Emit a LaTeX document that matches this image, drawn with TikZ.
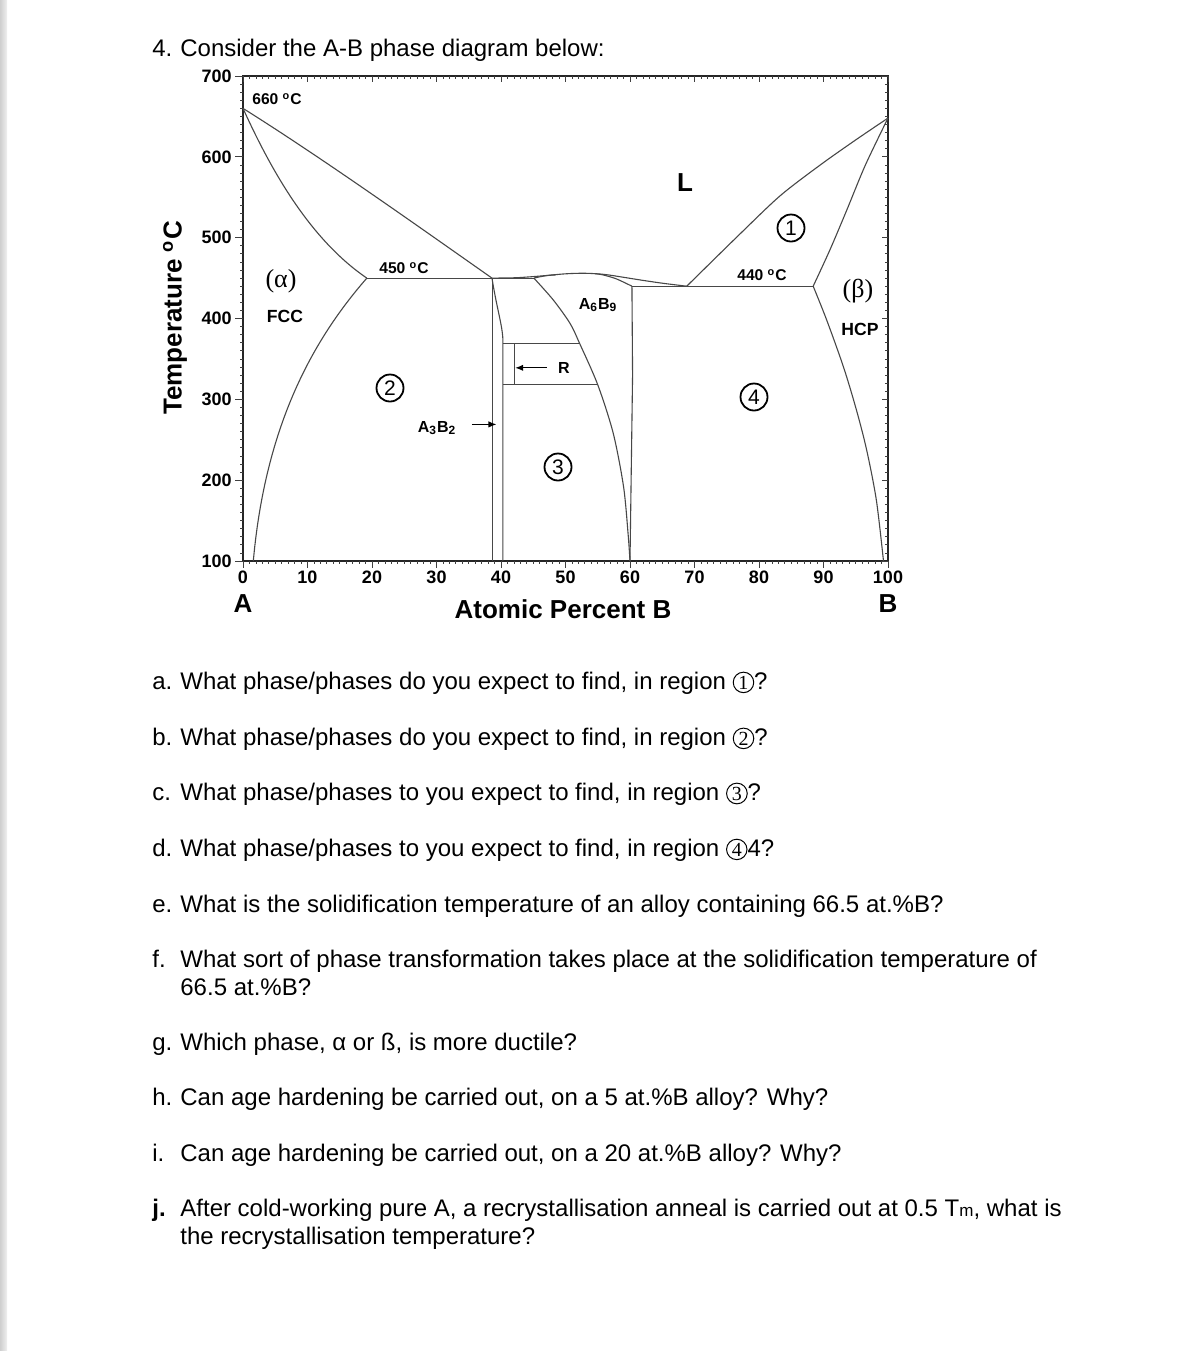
\documentclass[tikz,border=0pt]{standalone}
\usepackage{fontspec}
\setmainfont{Liberation Sans}
\newfontfamily\greekfont{Liberation Serif}
\usetikzlibrary{arrows.meta, positioning}

\tikzset{
  plotframe/.style={line width=0.8pt, black!85},
  axtick/.style={line width=0.4pt, black!75},
  phase/.style={line width=0.55pt, black!72},
  pointer/.style={line width=0.6pt, -{Latex[length=4pt, width=3.2pt]}},
  numlbl/.style={font=\bfseries\fontsize{9}{10}\selectfont, inner sep=0pt},
  templbl/.style={font=\bfseries\fontsize{7.8}{9}\selectfont, inner sep=0pt},
  phaselbl/.style={font=\bfseries\fontsize{8.8}{10}\selectfont, inner sep=0pt},
  cmpdlbl/.style={font=\bfseries\fontsize{8}{9}\selectfont, inner sep=0pt},
  greeklbl/.style={font=\greekfont\fontsize{13}{15}\selectfont, inner sep=0pt},
  axislbl/.style={font=\bfseries\fontsize{13}{15}\selectfont, inner sep=0pt},
  regionmark/.style={circle, draw, line width=0.9pt, inner sep=0pt, minimum size=13.5pt, font=\fontsize{10.5}{11}\selectfont},
  qtext/.style={anchor=base west, inner sep=0pt, font=\fontsize{12}{14}\selectfont},
}
% circled number inside the question text
\newcommand{\regnum}[1]{\tikz[baseline=(cn.base)]\node[circle, draw, line width=0.5pt, inner sep=0.7pt, font=\greekfont\fontsize{10}{10}\selectfont] (cn) {#1};}

\begin{document}
\begin{tikzpicture}[x=0.5pt, y=-0.5pt]
\useasboundingbox (0,0) rectangle (1187,1351);
\fill[white] (0,0) rectangle (1187,1351);
\shade[left color=gray!38, right color=gray!12] (0,0) rectangle (7,1351);
% the phase diagram, in at.% B and degrees C
\begin{scope}[shift={(243,641.83)}, x=3.225pt, y=0.40415pt]
% frame and ticks
\draw[plotframe] (0,100) rectangle (100,700);
\foreach \xx in {0,1,...,100}
{
  \draw[axtick] (\xx,100) -- ++(0pt,-1.5pt);
  \draw[axtick] (\xx,700) -- ++(0pt,-1.5pt);
}
\foreach \xx in {0,10,...,100}
{
  \draw[axtick] (\xx,100) -- ++(0pt,-3.5pt);
  \draw[axtick] (\xx,700) -- ++(0pt,-3pt);
}
\foreach \tv in {100,110,...,700}
{
  \draw[axtick] (0,\tv) -- ++(-1.5pt,0pt);
  \draw[axtick] (100,\tv) -- ++(-1.5pt,0pt);
}
\foreach \tv in {100,200,...,700}
{
  \draw[axtick] (0,\tv) -- ++(-4pt,0pt);
  \draw[axtick] (100,\tv) -- ++(-3pt,0pt);
}
% liquidus and solidus of A
\draw[phase] (0,660) .. controls (12,600) and (27,515) .. (38.6,450);
\draw[phase] (0,660) .. controls (4,590) and (10,500) .. (19.2,450);
% solvus of alpha
\draw[phase] (19.2,450) .. controls (11,375) and (3.5,270) .. (1.6,100);
% eutectic at 450
\draw[phase] (19.2,450) -- (45.1,450);
% the line compound A3B2 and its neighbour
\draw[phase] (38.7,450) -- (38.7,100);
\draw[phase] (38.6,450) .. controls (39.4,410) and (40.3,390) .. (40.3,371) -- (40.3,100);
% the dome of A6B9
\draw[phase] plot[smooth] coordinates {(38.6,450) (42.4,450.5) (46,452.5) (50,455.3) (53,456) (56,454.6) (59,451) (62,447.2) (65.2,443.5) (68.8,440)};
\draw[phase] (45.1,450) .. controls (46.2,452) and (47,453.5) .. (48.5,454);
\draw[phase] plot[smooth] coordinates {(54.5,455.6) (55.9,453.8) (57.9,449) (60.3,440)};
\draw[phase] plot[smooth] coordinates {(45.1,450) (48.1,423) (50.7,394) (52.2,369) (55.0,318) (57.4,258) (59.0,192) (59.7,134) (60.0,100)};
\draw[phase] (60.3,440) -- (60.4,330) -- (60.0,100);
% the R box
\draw[phase] (40.3,369) -- (52.2,369);
\draw[phase] (40.3,318) -- (55.0,318);
\draw[phase] (42.1,369) -- (42.1,318);
% eutectic at 440
\draw[phase] (60.3,440) -- (88.4,440);
% liquidus, solidus and solvus of B
\draw[phase] plot[smooth] coordinates {(68.8,440) (77.1,505) (83.3,552) (89.5,590) (95,621) (100,648)};
\draw[phase] plot[smooth] coordinates {(88.4,440) (91,485) (93.6,534) (96.5,590) (100,648)};
\draw[phase] plot[smooth] coordinates {(88.4,440) (90.5,398) (93.1,340) (95.1,287) (96.7,237) (98.2,175) (99.3,100)};
% arrow ends
\coordinate (a3b2tail) at (35.5,269);
\coordinate (a3b2tip) at (39.3,269);
\coordinate (rtail) at (47.1,339);
\coordinate (rtip) at (42.2,339);
\end{scope}
% axis numbers
\foreach \xx in {0,10,...,100}
  \node[numlbl] (xl\xx) at ({243+6.45*\xx},577) {\xx};
\foreach \tv in {100,200,...,700}
  \node[numlbl, anchor=east] (yl\tv) at (232,{641.83-0.8083*\tv}) {\tv};
\node[axislbl] (compA) at (243,604) {A};
\node[axislbl] (compB) at (888,604) {B};
\node[axislbl] (xtitle) at (563,609) {Atomic Percent B};
\node[axislbl, rotate=90] (ytitle) at (175,318) {Temperature \textsuperscript{o}C};
% labels in the diagram
\node[templbl] (tA) at (277,99) {660 \textsuperscript{o}C};
\node[templbl] (teut1) at (404,268) {450 \textsuperscript{o}C};
\node[templbl] (teut2) at (762,275) {440 \textsuperscript{o}C};
\node[greeklbl] (alpha) at (281,281) {(α)};
\node[phaselbl] (fcc) at (285,316) {FCC};
\node[greeklbl] (beta) at (858,291) {(β)};
\node[phaselbl] (hcp) at (860,329) {HCP};
\node[axislbl] (liq) at (685,183) {L};
\node[cmpdlbl] (a3b2) at (437,428) {A\textsubscript{3}B\textsubscript{2}};
\node[cmpdlbl] (a6b9) at (598,305) {A\textsubscript{6}B\textsubscript{9}};
\node[cmpdlbl] (rlbl) at (564,368) {R};
\draw[pointer] (a3b2tail) -- (a3b2tip);
\draw[pointer] (rtail) -- (rtip);
\foreach \nn/\px/\py in {1/791/228, 2/390/388, 3/558/467, 4/754/397}
  \node[regionmark] (reg\nn) at (\px,\py) {\nn};
% the questions
\node[qtext] (titlenum) at (152,56) {4.};
\node[qtext] (titletxt) at (180,56) {Consider the A-B phase diagram below:};
\node[qtext] (qa) at (152,689) {a.};
\node[qtext] (qatxt) at (180,689) {What phase/phases do you expect to find, in region \regnum{1}?};
\node[qtext] (qb) at (152,745) {b.};
\node[qtext] (qbtxt) at (180,745) {What phase/phases do you expect to find, in region \regnum{2}?};
\node[qtext] (qc) at (152,800) {c.};
\node[qtext] (qctxt) at (180,800) {What phase/phases to you expect to find, in region \regnum{3}?};
\node[qtext] (qd) at (152,856) {d.};
\node[qtext] (qdtxt) at (180,856) {What phase/phases to you expect to find, in region \regnum{4}4?};
\node[qtext] (qe) at (152,912) {e.};
\node[qtext] (qetxt) at (180,912) {What is the solidification temperature of an alloy containing 66.5 at.\%B?};
\node[qtext] (qf) at (152,967) {f.};
\node[qtext] (qftxt) at (180,967) {What sort of phase transformation takes place at the solidification temperature of};
\node[qtext] (qftxtb) at (180,995) {66.5 at.\%B?};
\node[qtext] (qg) at (152,1050) {g.};
\node[qtext] (qgtxt) at (180,1050) {Which phase, α or ß, is more ductile?};
\node[qtext] (qh) at (152,1105) {h.};
\node[qtext] (qhtxt) at (180,1105) {Can age hardening be carried out, on a 5 at.\%B alloy? Why?};
\node[qtext] (qi) at (152,1161) {i.};
\node[qtext] (qitxt) at (180,1161) {Can age hardening be carried out, on a 20 at.\%B alloy? Why?};
\node[qtext, font=\bfseries\fontsize{12}{14}\selectfont] (qj) at (152,1216) {j.};
\node[qtext] (qjtxt) at (180,1216) {After cold-working pure A, a recrystallisation anneal is carried out at 0.5 T{\fontsize{8.5}{9}\selectfont m}, what is};
\node[qtext] (qjtxtb) at (180,1244) {the recrystallisation temperature?};
\end{tikzpicture}
\end{document}
